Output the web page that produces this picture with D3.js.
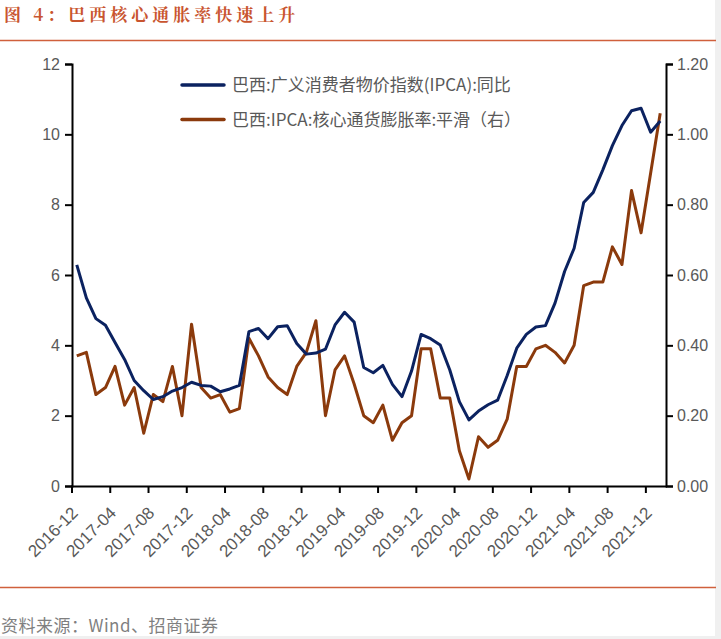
<!DOCTYPE html>
<html><head><meta charset="utf-8">
<script src="https://cdn.jsdelivr.net/npm/d3@7"></script>
<style>
body{margin:0;background:#fff;}
svg{display:block;}
</style></head>
<body>
<svg id="c" width="721" height="639"></svg>
<script>
const months = [];
(function(){let y=2016,m=12;for(let i=0;i<62;i++){months.push(y+"-"+String(m).padStart(2,"0"));m++;if(m>12){m=1;y++;}}})();
const ipcaYoY = [6.29,5.35,4.76,4.57,4.08,3.60,3.00,2.71,2.46,2.54,2.70,2.80,2.95,2.86,2.84,2.68,2.76,2.86,4.39,4.48,4.19,4.53,4.56,4.05,3.75,3.78,3.89,4.58,4.94,4.66,3.37,3.22,3.43,2.89,2.54,3.27,4.31,4.19,4.01,3.30,2.40,1.88,2.13,2.31,2.44,3.14,3.92,4.31,4.52,4.56,5.20,6.10,6.76,8.06,8.35,8.99,9.68,10.25,10.67,10.74,10.06,10.38];
const coreSmooth = [0.37,0.38,0.26,0.28,0.34,0.23,0.28,0.15,0.26,0.24,0.34,0.20,0.46,0.28,0.25,0.26,0.21,0.22,0.42,0.37,0.31,0.28,0.26,0.34,0.38,0.47,0.20,0.33,0.37,0.29,0.20,0.18,0.23,0.13,0.18,0.20,0.39,0.39,0.25,0.25,0.10,0.02,0.14,0.11,0.13,0.19,0.34,0.34,0.39,0.40,0.38,0.35,0.40,0.57,0.58,0.58,0.68,0.63,0.84,0.72,0.89,1.06];
const leftTicks = [0,2,4,6,8,10,12];
const rightTicks = [0,0.2,0.4,0.6,0.8,1.0,1.2];
const tickMonths = months.filter((d,i)=>i%4===0);
const legendLabels = ["巴西:广义消费者物价指数(IPCA):同比","巴西:IPCA:核心通货膨胀率:平滑（右）"];
const colors = ["#0b2260","#8b3a0c"];

const svg = d3.select("#c");
const lat = "'Liberation Sans', Arial, sans-serif";
const cjk = "'Noto Sans CJK SC', sans-serif";

svg.append("rect").attr("x",715).attr("y",0).attr("width",6).attr("height",639).attr("fill","#f0f0f0");
svg.append("rect").attr("x",0).attr("y",636).attr("width",721).attr("height",3).attr("fill","#f0f0f0");

svg.append("text").attr("x",4).attr("y",21).attr("font-family","'Noto Serif CJK SC','Noto Sans CJK SC',serif")
  .attr("font-weight","bold").attr("font-size",17).attr("letter-spacing",4).attr("fill","#c9552f").text("图 4：巴西核心通胀率快速上升");
svg.append("line").attr("x1",0).attr("x2",716).attr("y1",40.5).attr("y2",40.5).attr("stroke","#d0603c").attr("stroke-width",1.5);
svg.append("line").attr("x1",0).attr("x2",716).attr("y1",587.5).attr("y2",587.5).attr("stroke","#d0603c").attr("stroke-width",1.5);
svg.append("text").attr("x",1).attr("y",632).attr("font-family",cjk).attr("font-size",17).attr("letter-spacing",0.5).attr("fill","#7f7f7f").text("资料来源：Wind、招商证券");

const x = d3.scaleBand().domain(months).range([72,665]).padding(0);
const yL = d3.scaleLinear().domain([0,12]).range([486,64]);
const yR = d3.scaleLinear().domain([0,1.2]).range([486,64]);

const gL = svg.append("g").attr("transform","translate(72,0)")
  .call(d3.axisLeft(yL).tickValues(leftTicks).tickSize(7).tickPadding(5).tickFormat(d3.format("d")));
const gR = svg.append("g").attr("transform","translate(666,0)")
  .call(d3.axisRight(yR).tickValues(rightTicks).tickSize(7).tickPadding(4).tickFormat(d3.format(".2f")));
const gX = svg.append("g").attr("transform","translate(0,486)")
  .call(d3.axisBottom(x).tickValues(tickMonths).tickSize(7).tickSizeOuter(0));
gX.selectAll(".tick").attr("transform",d=>`translate(${x(d)},0)`);
gX.selectAll(".tick text").attr("text-anchor","end").attr("dy",0).attr("y",0)
  .attr("transform","translate(7,28) rotate(-45)");
[gL,gR,gX].forEach(g=>{
  g.select(".domain").attr("stroke","#000").attr("stroke-width",2);
  g.selectAll(".tick line").attr("stroke","#000").attr("stroke-width",2);
  g.selectAll(".tick text").attr("font-family",lat).attr("font-size",16).attr("fill","#595959");
});
gX.select(".domain").attr("d","M71,0.5H667");
gX.selectAll(".tick text").attr("font-size",17);

const cx = d => x(d)+x.bandwidth()/2;
const l1 = d3.line().x((d,i)=>cx(months[i])).y(d=>yL(d));
const l2 = d3.line().x((d,i)=>cx(months[i])).y(d=>yR(d));
svg.append("path").datum(coreSmooth).attr("d",l2).attr("fill","none").attr("stroke",colors[1]).attr("stroke-width",3).attr("stroke-linejoin","round");
svg.append("path").datum(ipcaYoY).attr("d",l1).attr("fill","none").attr("stroke",colors[0]).attr("stroke-width",3).attr("stroke-linejoin","round");

legendLabels.forEach((t,i)=>{
  const yy = 85 + i*34.5;
  svg.append("line").attr("x1",182).attr("x2",224).attr("y1",yy).attr("y2",yy).attr("stroke",colors[i]).attr("stroke-width",3.5).attr("stroke-linecap","round");
  svg.append("text").attr("x",232).attr("y",yy+6).attr("font-family",cjk).attr("font-size",17).attr("fill","#595959").text(t);
});
</script>
</body></html>
